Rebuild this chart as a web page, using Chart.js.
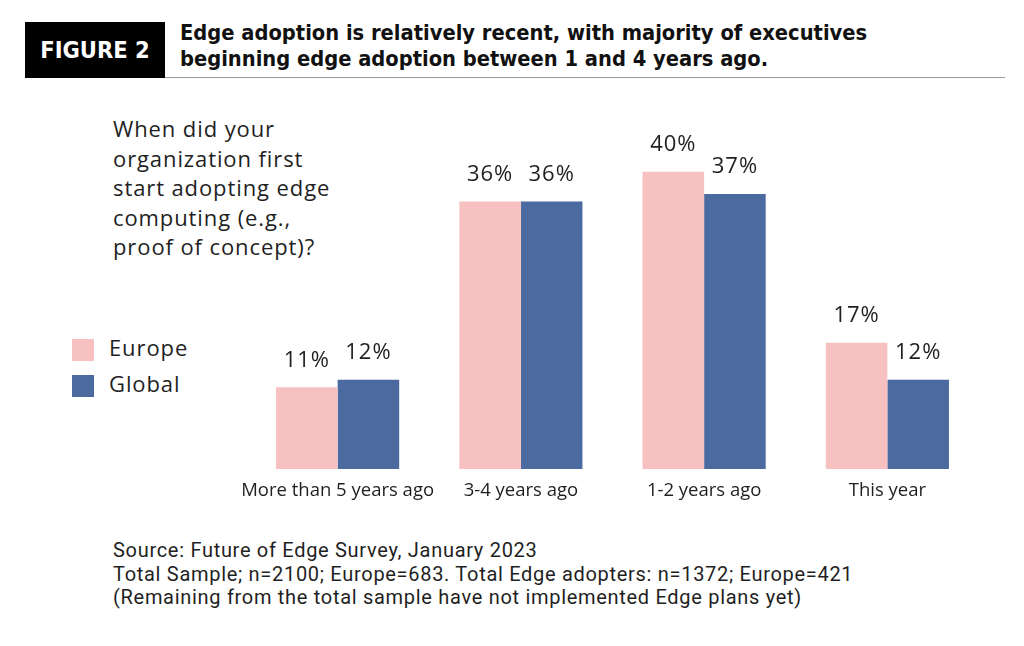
<!DOCTYPE html>
<html>
<head>
<meta charset="utf-8">
<script src="https://cdn.jsdelivr.net/npm/chart.js@4.4.0/dist/chart.umd.min.js"></script>
<style>
  html, body { margin: 0; padding: 0; background: #fff; }
  body { width: 1024px; height: 646px; position: relative; overflow: hidden; color: #1f1f1f; }
  #fig { position: absolute; left: 25px; top: 22px; width: 140px; height: 56px; background: #000; color: #fff;
         font: bold 23.5px "DejaVu Sans Condensed", "DejaVu Sans", sans-serif; line-height: 56px; text-align: center; }
  #titulo { position: absolute; left: 180px; top: 20px; font: bold 21.7px "DejaVu Sans Condensed", "DejaVu Sans", sans-serif;
            line-height: 26px; color: #111; }
  #linha { position: absolute; left: 165px; top: 77px; width: 840px; height: 1px; background: #999; }
  #pergunta { position: absolute; left: 113px; top: 114px; font: 22px "Open Sans", sans-serif; letter-spacing: 0.9px;
              line-height: 29.5px; color: #1f1f1f; }
  .leg { position: absolute; left: 72px; font: 22px "Open Sans", sans-serif; letter-spacing: 0.9px; color: #1f1f1f; }
  .leg span { display: inline-block; width: 22px; height: 22px; vertical-align: middle; margin-right: 15px; }
  #fonte { position: absolute; left: 113px; top: 539px; font: 20px Roboto, sans-serif; letter-spacing: 0.7px;
           line-height: 23.5px; color: #1f1f1f; }
  #box { position: absolute; left: 216px; top: 102px; width: 793px; height: 407px; }
</style>
</head>
<body>
<div id="fig">FIGURE 2</div>
<div id="titulo">Edge adoption is relatively recent, with majority of executives<br>beginning edge adoption between 1 and 4 years ago.</div>
<div id="linha"></div>
<div id="pergunta">When did your<br>organization first<br>start adopting edge<br>computing (e.g.,<br>proof of concept)?</div>
<div class="leg" style="top:332px"><span style="background:#f8c1c1"></span>Europe</div>
<div class="leg" style="top:368px"><span style="background:#4b6aa0"></span>Global</div>
<div id="box"><canvas id="grafico"></canvas></div>
<div id="fonte">Source: Future of Edge Survey, January 2023<br>Total Sample; n=2100; Europe=683. Total Edge adopters: n=1372; Europe=421<br>(Remaining from the total sample have not implemented Edge plans yet)</div>

<script>
// dados do gráfico
const categorias = ['More than 5 years ago', '3-4 years ago', '1-2 years ago', 'This year'];
const europa = [11, 36, 40, 17];
const global = [12, 36, 37, 12];

// rótulos de porcentagem acima das barras
const rotulos = {
    id: 'rotulos',
    afterDatasetsDraw(chart) {
        const ctx = chart.ctx;
        ctx.save();
        ctx.font = '22px "Open Sans", sans-serif';
        ctx.letterSpacing = '1px';
        ctx.fillStyle = '#1f1f1f';
        ctx.textAlign = 'center';
        ctx.textBaseline = 'middle';
        chart.data.datasets.forEach((ds, i) => {
            chart.getDatasetMeta(i).data.forEach((bar, j) => {
                ctx.fillText(ds.data[j] + '%', bar.x, bar.y - 27);
            });
        });
        ctx.restore();
    }
};

new Chart(document.getElementById('grafico'), {
    type: 'bar',
    data: {
        labels: categorias,
        datasets: [
            { label: 'Europe', data: europa, backgroundColor: '#f8c1c1' },
            { label: 'Global', data: global, backgroundColor: '#4b6aa0' }
        ]
    },
    options: {
        responsive: true,
        maintainAspectRatio: false,
        animation: false,
        categoryPercentage: 0.672,
        barPercentage: 1.0,
        layout: { padding: { top: 40, left: 30, right: 30, bottom: 0 } },
        plugins: { legend: { display: false }, tooltip: { enabled: false } },
        scales: {
            x: {
                grid: { display: false, drawTicks: false },
                border: { display: false },
                ticks: {
                    color: '#1f1f1f', font: { family: 'Open Sans', size: 18.5 }, padding: 11,
                    maxRotation: 0, minRotation: 0, autoSkip: false
                },
                afterFit(scale) {
                    // sem recuo lateral por causa dos rótulos
                    scale.paddingLeft = 0;
                    scale.paddingRight = 0;
                    scale.height = 40;
                }
            },
            y: { display: false, min: 0, max: 44 }
        }
    },
    plugins: [rotulos]
});
</script>
</body>
</html>
